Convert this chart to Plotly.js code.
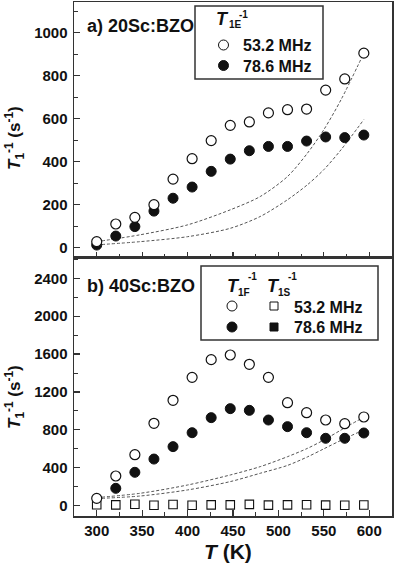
<!DOCTYPE html>
<html>
<head>
<meta charset="utf-8">
<script src="https://cdn.plot.ly/plotly-3.0.1.min.js"></script>
<style>html,body{margin:0;padding:0;background:#fff;}#chart{width:394px;height:566px;}</style>
</head>
<body>
<div id="chart"></div>
<script>
// ---- Data ----
const temps = [300, 321, 342, 363, 384, 405, 426, 447, 468, 489, 510, 531, 552, 573, 594];

// Panel a) 20Sc:BZO, T1E^-1
const a_532 = [28, 110, 141, 200, 319, 414, 498, 569, 585, 627, 642, 645, 733, 785, 905];
const a_786 = [12, 54, 98, 170, 230, 282, 355, 412, 451, 471, 471, 496, 515, 512, 524];
// dashed fit curves, panel a (read points)
const aFitT = [300, 348, 400, 447, 480, 510, 532, 550, 569, 594];
const aFit532 = [28, 60, 106, 176, 238, 331, 440, 549, 689, 905];
const aFit786 = [13, 28, 51, 90, 145, 223, 293, 363, 456, 596];

// Panel b) 40Sc:BZO
const tempsB786 = [321, 342, 363, 384, 405, 426, 447, 468, 489, 510, 531, 552, 573, 594];
const bF_532 = [77, 313, 538, 869, 1112, 1354, 1541, 1590, 1492, 1354, 1087, 981, 904, 865, 936];
const bF_786 = [183, 352, 492, 623, 770, 929, 1024, 1006, 904, 834, 770, 711, 711, 767];
const bS_532 = [10, 8, 15, 5, 12, 5, 8, 8, 14, 6, 8, 10, 6, 5, 7];
const bFitT = [300, 348, 400, 447, 480, 510, 532, 550, 569, 594];
const bFit532 = [85, 131, 218, 324, 412, 517, 605, 693, 799, 935];
const bFit786 = [75, 102, 166, 254, 342, 425, 515, 600, 690, 800];

const xTicks = [300, 350, 400, 450, 500, 550, 600];
const legendLabels = ["53.2 MHz", "78.6 MHz"];
const panelLabels = ["a) 20Sc:BZO", "b) 40Sc:BZO"];

// ---- Styling ----
const FONT = "Liberation Sans, Arial, sans-serif";
const INK = "#111";
const FRAME = "#333";
const W = 394, H = 566, ML = 74, MR = 2, MT = 2, MB = 50;
const PW = W - ML - MR, PH = H - MT - MB;
const px = x => (x - ML) / PW;
const py = y => (H - MB - y) / PH;

const fitLine = {color: "#555", width: 1, dash: "3px,2px", shape: "spline", smoothing: 0.8};
const openCircle = {symbol: "circle", size: 10, color: "#fff", line: {color: INK, width: 1.2}};
const fullCircle = {symbol: "circle", size: 10, color: INK, line: {color: INK, width: 1}};
const openSquare = {symbol: "square", size: 8.5, color: "#fff", line: {color: INK, width: 1.1}};

const traces = [
  {x: aFitT, y: aFit532, xaxis: "x2", yaxis: "y2", mode: "lines", line: fitLine, hoverinfo: "skip"},
  {x: aFitT, y: aFit786, xaxis: "x2", yaxis: "y2", mode: "lines", line: fitLine, hoverinfo: "skip"},
  {x: temps, y: a_786, xaxis: "x2", yaxis: "y2", mode: "markers", marker: fullCircle, name: legendLabels[1]},
  {x: temps, y: a_532, xaxis: "x2", yaxis: "y2", mode: "markers", marker: openCircle, name: legendLabels[0]},
  {x: bFitT, y: bFit532, xaxis: "x", yaxis: "y", mode: "lines", line: fitLine, hoverinfo: "skip"},
  {x: bFitT, y: bFit786, xaxis: "x", yaxis: "y", mode: "lines", line: fitLine, hoverinfo: "skip"},
  {x: temps, y: bS_532, xaxis: "x", yaxis: "y", mode: "markers", marker: openSquare, name: "T1S 53.2 MHz"},
  {x: tempsB786, y: bF_786, xaxis: "x", yaxis: "y", mode: "markers", marker: fullCircle, name: "T1F 78.6 MHz"},
  {x: temps, y: bF_532, xaxis: "x", yaxis: "y", mode: "markers", marker: openCircle, name: "T1F 53.2 MHz"}
];

const tickFont = {family: FONT, size: 15, color: INK, weight: "bold"};
const baseX = {
  range: [275, 625], tickvals: xTicks, ticks: "inside", ticklen: 6, tickwidth: 1.2, tickcolor: FRAME,
  minor: {dtick: 25, tick0: 275, ticks: "inside", ticklen: 4, tickwidth: 1, tickcolor: FRAME},
  showline: true, linecolor: FRAME, linewidth: 1.5, mirror: true, showgrid: false, zeroline: false,
  tickfont: tickFont
};
const baseY = {
  ticks: "inside", ticklen: 6, tickwidth: 1.2, tickcolor: FRAME,
  showline: true, linecolor: FRAME, linewidth: 1.5, mirror: true, showgrid: false, zeroline: false,
  tickfont: tickFont, ticklabelstandoff: 2
};

function txt(text, x, y, size, opts) {
  return Object.assign({
    text: text, x: px(x), y: py(y), xref: "paper", yref: "paper", showarrow: false,
    xanchor: "left", yanchor: "middle",
    font: {family: FONT, size: size, color: INK, weight: "bold"}
  }, opts || {});
}
function circ(x, y, d, filled) {
  return {type: "circle", xref: "paper", yref: "paper", xsizemode: "pixel", ysizemode: "pixel",
    xanchor: px(x), yanchor: py(y), x0: -d / 2, x1: d / 2, y0: -d / 2, y1: d / 2,
    line: {color: INK, width: 1}, fillcolor: filled ? INK : "#fff"};
}
function sq(x, y, d, filled) {
  return {type: "rect", xref: "paper", yref: "paper", xsizemode: "pixel", ysizemode: "pixel",
    xanchor: px(x), yanchor: py(y), x0: -d / 2, x1: d / 2, y0: -d / 2, y1: d / 2,
    line: {color: INK, width: 1}, fillcolor: filled ? INK : "#fff"};
}
function box(x0, y0, x1, y1) {
  return {type: "rect", xref: "paper", yref: "paper", x0: px(x0), x1: px(x1), y0: py(y1), y1: py(y0),
    line: {color: FRAME, width: 1.5}, fillcolor: "rgba(0,0,0,0)"};
}

const yTitle = "<i>T</i><sub>1</sub><sup>-1</sup> (s<sup>-1</sup>)";
const annotations = [
  txt(yTitle, 15, 138, 17, {xanchor: "center", textangle: -90}),
  txt(yTitle, 15, 397, 17, {xanchor: "center", textangle: -90}),
  txt("<i>T</i> (K)", 228, 551, 21, {xanchor: "center"}),
  txt(panelLabels[0], 85, 26, 18),
  txt(panelLabels[1], 85, 286, 18),
  // legend a
  txt("<i>T</i>", 222, 19, 18, {xanchor: "center"}),
  txt("1E", 235, 25, 10, {xanchor: "center"}),
  txt("-1", 243, 14, 10, {xanchor: "center"}),
  txt(legendLabels[0], 241, 45, 16),
  txt(legendLabels[1], 241, 66, 16),
  // legend b
  txt("<i>T</i>", 233, 286, 18, {xanchor: "center"}),
  txt("1F", 244, 292, 10, {xanchor: "center"}),
  txt("-1", 252, 276, 10, {xanchor: "center"}),
  txt("<i>T</i>", 273, 286, 18, {xanchor: "center"}),
  txt("1S", 284, 292, 10, {xanchor: "center"}),
  txt("-1", 292, 276, 10, {xanchor: "center"}),
  txt(legendLabels[0], 292, 307, 16),
  txt(legendLabels[1], 292, 327, 16)
];

const shapes = [
  box(195, 6, 323, 79),
  circ(223.5, 45, 10, false),
  circ(223.5, 65.5, 10, true),
  box(201, 266, 378, 340),
  circ(232, 306, 10, false),
  circ(232, 327, 10, true),
  sq(274, 306, 8, false),
  sq(274, 327, 8, true)
];

const layout = {
  width: W, height: H,
  margin: {l: ML, r: MR, t: MT, b: MB},
  paper_bgcolor: "#fff", plot_bgcolor: "#fff",
  showlegend: false,
  font: {family: FONT, color: INK},
  xaxis: Object.assign({}, baseX, {anchor: "y", domain: [0, 1]}),
  xaxis2: Object.assign({}, baseX, {anchor: "y2", matches: "x", showticklabels: false}),
  yaxis: Object.assign({}, baseY, {domain: [0, 0.502], range: [-109, 2614], dtick: 400, tick0: 0,
    minor: {dtick: 200, tick0: 0, ticks: "inside", ticklen: 4, tickwidth: 1, tickcolor: FRAME}}),
  yaxis2: Object.assign({}, baseY, {domain: [0.502, 1], range: [-48, 1143], dtick: 200, tick0: 0,
    minor: {dtick: 100, tick0: 0, ticks: "inside", ticklen: 4, tickwidth: 1, tickcolor: FRAME}}),
  annotations: annotations,
  shapes: shapes
};

Plotly.newPlot("chart", traces, layout, {displayModeBar: false, staticPlot: true});
</script>
</body>
</html>
